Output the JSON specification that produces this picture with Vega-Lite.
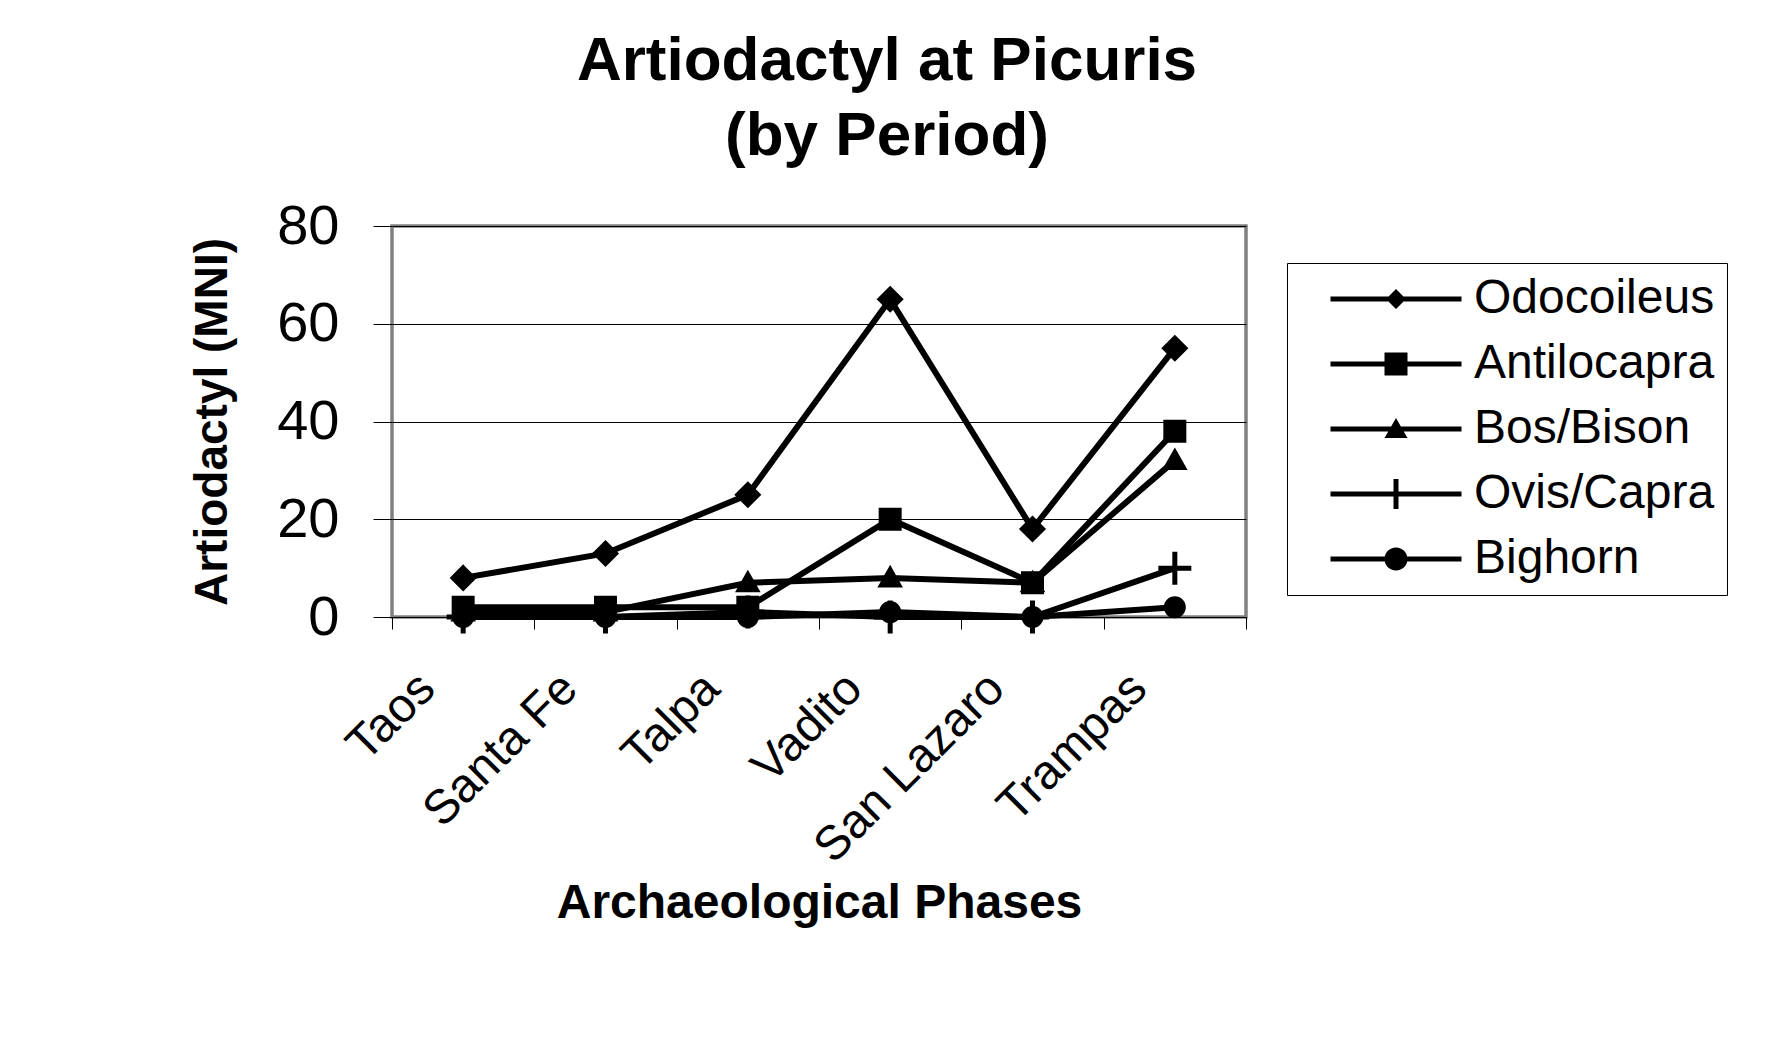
{
  "$schema": "https://vega.github.io/schema/vega-lite/v6.json",
  "autosize": {"type": "none"},
  "padding": {"left": 392, "top": 226, "right": 532, "bottom": 431},
  "width": 854,
  "height": 391,
  "background": "white",
  "title": {
    "text": ["Artiodactyl at Picuris", "(by Period)"],
    "font": "Liberation Sans",
    "fontSize": 62,
    "fontWeight": "bold",
    "color": "black",
    "anchor": "middle",
    "dx": 68,
    "lineHeight": 75,
    "offset": 30
  },
  "data": {
    "values": [
      {"phase": "Taos", "taxon": "Odocoileus", "mni": 8},
      {"phase": "Santa Fe", "taxon": "Odocoileus", "mni": 13},
      {"phase": "Talpa", "taxon": "Odocoileus", "mni": 25},
      {"phase": "Vadito", "taxon": "Odocoileus", "mni": 65},
      {"phase": "San Lazaro", "taxon": "Odocoileus", "mni": 18},
      {"phase": "Trampas", "taxon": "Odocoileus", "mni": 55},
      {"phase": "Taos", "taxon": "Antilocapra", "mni": 2},
      {"phase": "Santa Fe", "taxon": "Antilocapra", "mni": 2},
      {"phase": "Talpa", "taxon": "Antilocapra", "mni": 2},
      {"phase": "Vadito", "taxon": "Antilocapra", "mni": 20},
      {"phase": "San Lazaro", "taxon": "Antilocapra", "mni": 7},
      {"phase": "Trampas", "taxon": "Antilocapra", "mni": 38},
      {"phase": "Taos", "taxon": "Bos/Bison", "mni": 1},
      {"phase": "Santa Fe", "taxon": "Bos/Bison", "mni": 1},
      {"phase": "Talpa", "taxon": "Bos/Bison", "mni": 7},
      {"phase": "Vadito", "taxon": "Bos/Bison", "mni": 8},
      {"phase": "San Lazaro", "taxon": "Bos/Bison", "mni": 7},
      {"phase": "Trampas", "taxon": "Bos/Bison", "mni": 32},
      {"phase": "Taos", "taxon": "Ovis/Capra", "mni": 0},
      {"phase": "Santa Fe", "taxon": "Ovis/Capra", "mni": 0},
      {"phase": "Talpa", "taxon": "Ovis/Capra", "mni": 1},
      {"phase": "Vadito", "taxon": "Ovis/Capra", "mni": 0},
      {"phase": "San Lazaro", "taxon": "Ovis/Capra", "mni": 0},
      {"phase": "Trampas", "taxon": "Ovis/Capra", "mni": 10},
      {"phase": "Taos", "taxon": "Bighorn", "mni": 0},
      {"phase": "Santa Fe", "taxon": "Bighorn", "mni": 0},
      {"phase": "Talpa", "taxon": "Bighorn", "mni": 0},
      {"phase": "Vadito", "taxon": "Bighorn", "mni": 1},
      {"phase": "San Lazaro", "taxon": "Bighorn", "mni": 0},
      {"phase": "Trampas", "taxon": "Bighorn", "mni": 2}
    ]
  },
  "encoding": {
    "x": {
      "field": "phase",
      "type": "nominal",
      "sort": ["Taos", "Santa Fe", "Talpa", "Vadito", "San Lazaro", "Trampas"],
      "bandPosition": 0.5,
      "scale": {"type": "band", "paddingInner": 0, "paddingOuter": 0},
      "axis": {
        "title": "Archaeological Phases",
        "titleFont": "Liberation Sans",
        "titleFontSize": 48,
        "titleFontWeight": "bold",
        "titleColor": "black",
        "titlePadding": 62,
        "labelFont": "Liberation Sans",
        "labelFontSize": 48,
        "labelColor": "black",
        "labelAngle": -45,
        "labelAlign": "right",
        "labelBaseline": "top",
        "labelOffset": -53,
        "labelPadding": 35,
        "labelLimit": 400,
        "tickBand": "extent",
        "tickSize": 12,
        "tickColor": "black",
        "domain": false,
        "grid": false
      }
    },
    "y": {
      "field": "mni",
      "type": "quantitative",
      "scale": {"domain": [0, 80], "nice": false},
      "axis": {
        "title": "Artiodactyl (MNI)",
        "titleFont": "Liberation Sans",
        "titleFontSize": 46,
        "titleFontWeight": "bold",
        "titleColor": "black",
        "titlePadding": 40,
        "labelFont": "Liberation Sans",
        "labelFontSize": 56,
        "labelColor": "black",
        "labelPadding": 34,
        "values": [0, 20, 40, 60, 80],
        "tickSize": 19,
        "tickColor": "black",
        "gridColor": "black",
        "gridWidth": 1,
        "domain": false
      }
    }
  },
  "layer": [
    {
      "mark": {"type": "line", "color": "black", "strokeWidth": 6},
      "encoding": {"detail": {"field": "taxon"}}
    },
    {
      "mark": {"type": "point", "filled": true, "color": "black", "stroke": "black", "strokeWidth": 5, "size": 100, "opacity": 1},
      "encoding": {
        "shape": {
          "field": "taxon",
          "type": "nominal",
          "scale": {
            "domain": ["Odocoileus", "Antilocapra", "Bos/Bison", "Ovis/Capra", "Bighorn"],
            "range": [
              "M0,-2L2,0L0,2L-2,0Z",
              "M-1.8,-1.8H1.8V1.8H-1.8Z",
              "M0,-1.6L1.7,1.4L-1.7,1.4Z",
              "M-3.3,0H3.3M0,-3.3V3.3",
              "M-1.7,0A1.7,1.7,0,1,0,1.7,0A1.7,1.7,0,1,0,-1.7,0Z"
            ]
          },
          "legend": null
        }
      }
    },
    {
      "transform": [{"filter": "datum.mni < 0"}],
      "mark": {"type": "point", "filled": true, "color": "black", "strokeWidth": 0, "size": 400, "opacity": 1},
      "encoding": {
        "shape": {
          "field": "taxon",
          "type": "nominal",
          "scale": {
            "domain": ["Odocoileus", "Antilocapra", "Bos/Bison", "Ovis/Capra", "Bighorn"],
            "range": [
              "M-6.55,-0.25H6.55V0.25H-6.55ZM0,-1L1,0L0,1L-1,0Z",
              "M-6.55,-0.25H6.55V0.25H-6.55ZM-1.15,-1.15H1.15V1.15H-1.15Z",
              "M-6.55,-0.25H6.55V0.25H-6.55ZM0,-1.1L1.15,0.9L-1.15,0.9Z",
              "M-6.55,-0.25H6.55V0.25H-6.55ZM-0.25,-1.5H0.25V1.5H-0.25Z",
              "M-6.55,-0.25H6.55V0.25H-6.55ZM-1.15,0A1.15,1.15,0,1,1,1.15,0A1.15,1.15,0,1,1,-1.15,0Z"
            ]
          },
          "legend": {
            "title": null,
            "orient": "none",
            "legendX": 895,
            "legendY": 37,
            "strokeColor": "black",
            "padding": 12,
            "labelFont": "Liberation Sans",
            "labelFontSize": 48,
            "labelColor": "black",
            "labelLimit": 400,
            "symbolSize": 400,
            "symbolFillColor": "black",
            "symbolStrokeWidth": 0,
            "symbolOpacity": 1,
            "symbolOffset": 73,
            "labelOffset": 54,
            "rowPadding": 17
          }
        }
      }
    }
  ],
  "resolve": {"scale": {"shape": "independent"}, "legend": {"shape": "independent"}},
  "config": {
    "view": {"stroke": "#808080", "strokeWidth": 3.5},
    "font": "Liberation Sans"
  }
}
